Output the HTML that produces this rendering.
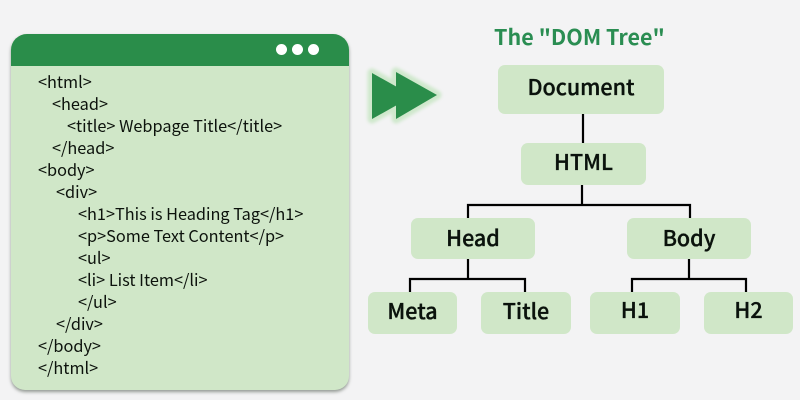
<!DOCTYPE html>
<html><head><meta charset="utf-8"><style>
html,body{margin:0;padding:0;background:#f3f3f4}
body{width:800px;height:400px;position:relative;overflow:hidden;font-family:"Liberation Sans","Noto Sans CJK SC",sans-serif}
#panel{position:absolute;left:11px;top:34px;width:338px;height:356px;background:#d0e7c8;border-radius:16px 16px 14px 14px;box-shadow:0 2px 3px rgba(70,80,70,.55)}
#hdr{position:absolute;left:0;top:0;width:338px;height:32px;background:#2a8d4a;border-radius:16px 16px 0 0}
.dot{position:absolute;top:10px;width:11px;height:11px;border-radius:50%;background:#fff}
.l{position:absolute;font-size:16.3px;line-height:22px;height:22px;color:#0c120c;white-space:pre;font-family:"Noto Sans CJK SC",sans-serif;margin-top:-1px}
.n{position:absolute;background:#d0e7c8;border-radius:7px;color:#0a120c;font-weight:500;font-size:21.5px;-webkit-text-stroke:.35px #0a120c;text-align:center;font-family:"Noto Sans CJK SC",sans-serif}
#t{position:absolute;left:494px;top:22px;font-size:21.5px;line-height:30px;font-weight:700;color:#2a8d52;white-space:pre;font-family:"Noto Sans CJK SC",sans-serif}
svg{position:absolute;left:0;top:0}
</style></head><body>
<div id="panel"><div id="hdr"><div class="dot" style="left:265px"></div><div class="dot" style="left:281px"></div><div class="dot" style="left:297px"></div></div></div>
<div class="l" style="left:38px;top:71px">&lt;html&gt;</div>
<div class="l" style="left:52px;top:93px">&lt;head&gt;</div>
<div class="l" style="left:67px;top:115px">&lt;title&gt; Webpage Title&lt;/title&gt;</div>
<div class="l" style="left:52px;top:137px">&lt;/head&gt;</div>
<div class="l" style="left:38px;top:159px">&lt;body&gt;</div>
<div class="l" style="left:56px;top:181px">&lt;div&gt;</div>
<div class="l" style="left:78px;top:203px">&lt;h1&gt;This is Heading Tag&lt;/h1&gt;</div>
<div class="l" style="left:78px;top:225px">&lt;p&gt;Some Text Content&lt;/p&gt;</div>
<div class="l" style="left:78px;top:247px">&lt;ul&gt;</div>
<div class="l" style="left:78px;top:269px">&lt;li&gt; List Item&lt;/li&gt;</div>
<div class="l" style="left:78px;top:291px">&lt;/ul&gt;</div>
<div class="l" style="left:56px;top:313px">&lt;/div&gt;</div>
<div class="l" style="left:38px;top:335px">&lt;/body&gt;</div>
<div class="l" style="left:38px;top:357px">&lt;/html&gt;</div>
<svg width="800" height="400">
<defs><filter id="b" x="-20%" y="-20%" width="140%" height="140%"><feGaussianBlur stdDeviation="1.5"/></filter></defs>
<g stroke="#cfe8cc" stroke-width="9" stroke-linejoin="round" fill="#cfe8cc" filter="url(#b)"><polygon points="372,73 372,119 413,96"/><polygon points="396,72 396,119 437,95"/></g>
<polygon points="372,73 372,119 413,96" fill="#2a8d4a"/>
<polygon points="396,72 396,119 437,95" fill="#2a8d4a"/>
<g stroke="#000" stroke-width="2.2" fill="none">
<path d="M583 114V143M582 185V205M468 218V205H690V218M468 259V279M410 292V279H525V292M689 259V279M632 292V279H746V292"/>
</g>
</svg>
<div id="t">The "DOM Tree"</div>
<div class="n" style="left:498px;top:65px;width:166px;height:49px;line-height:44px">Document</div>
<div class="n" style="left:521px;top:143px;width:125px;height:42px;line-height:38px">HTML</div>
<div class="n" style="left:411px;top:218px;width:124px;height:41px;line-height:40px">Head</div>
<div class="n" style="left:627px;top:218px;width:124px;height:41px;line-height:40px">Body</div>
<div class="n" style="left:368px;top:292px;width:89px;height:42px;line-height:38px">Meta</div>
<div class="n" style="left:481px;top:292px;width:90px;height:42px;line-height:38px">Title</div>
<div class="n" style="left:590px;top:292px;width:90px;height:42px;line-height:35px">H1</div>
<div class="n" style="left:704px;top:292px;width:89px;height:42px;line-height:35px">H2</div>
</body></html>
